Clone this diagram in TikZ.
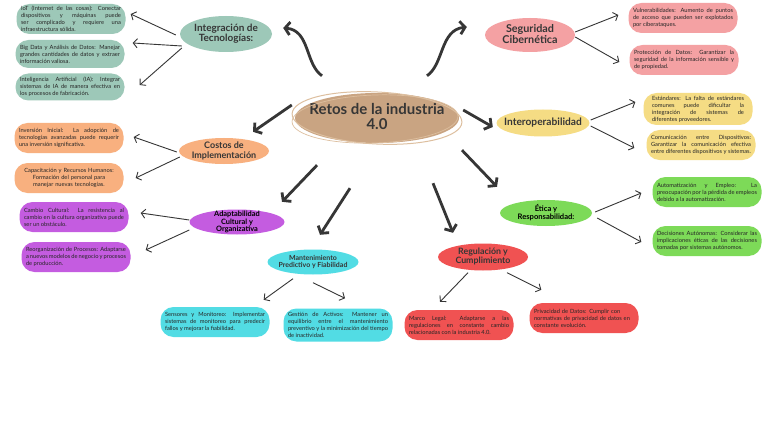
\documentclass[tikz,border=0pt]{standalone}
\usepackage{fontspec}
\setmainfont{Lato}
\usetikzlibrary{arrows.meta,shapes.geometric}

\definecolor{tan}{HTML}{C9A482}
\definecolor{tanline}{HTML}{DDBF9F}
\definecolor{sage}{HTML}{9DC8B8}
\definecolor{peach}{HTML}{F8B07F}
\definecolor{lila}{HTML}{C45CE0}
\definecolor{cyan}{HTML}{52DCE4}
\definecolor{rojo}{HTML}{F05252}
\definecolor{verde}{HTML}{7DDA58}
\definecolor{amarillo}{HTML}{F5DC84}
\definecolor{rosa}{HTML}{F4A1A3}
\definecolor{gris}{HTML}{363636}

% titulo centrado sin alto propio
\newcommand{\ttl}[1]{\makebox[0pt]{\smash{\raisebox{-.3em}{\begin{tabular}{@{}c@{}}#1\end{tabular}}}}}
\newcommand{\singuion}{\hyphenpenalty=10000\relax\exhyphenpenalty=10000\relax}

\tikzset{
  tema/.style={ellipse, fill=#1, inner sep=0pt, text=gris},
  caja/.style={fill=#1, rounded corners=13pt, text width=100pt, inner xsep=4.5pt,
    inner ysep=1pt, minimum height=30pt, align=justify, text=black!85,
    font=\fontsize{5.75}{7}\selectfont\singuion},
  flecha/.style={draw=gris, line width=0.9pt, -{Straight Barb[length=4pt,width=9pt]}},
  flechagruesa/.style={draw=gris, line width=2.8pt, -{Straight Barb[length=5pt,width=13pt]}}
}

\begin{document}
\begin{tikzpicture}[x=1pt,y=-1pt]

	\path[fill=white] (0,0) rectangle (768,433);
	\useasboundingbox (0,0) rectangle (768,433);

	% centro
	\node[tema=tan, minimum width=164pt, minimum height=50pt, font=\bfseries\fontsize{15}{15.5}\selectfont] (retos) at (377,118) {\ttl{Retos de la industria\\4.0}};
	\draw[tanline, line width=1pt] (retos.center) ellipse [x radius=85, y radius=26, rotate=-3];
	\draw[tanline, line width=0.7pt] ([shift={(-2,1)}]retos.center) ellipse [x radius=83, y radius=24, rotate=2];

	% temas
	\node[tema=sage, minimum width=92pt, minimum height=36pt, font=\bfseries\fontsize{10}{10}\selectfont] (integ) at (226,34) {\ttl{Integración de\\Tecnologías:}};
	\node[tema=rosa, minimum width=90pt, minimum height=34pt, font=\bfseries\fontsize{10.8}{11}\selectfont] (segur) at (530,35) {\ttl{Seguridad\\Cibernética}};
	\node[tema=peach, minimum width=90pt, minimum height=26pt, font=\bfseries\fontsize{9}{8.5}\selectfont] (costos) at (224,151) {\ttl{Costos de\\Implementación}};
	\node[tema=amarillo, minimum width=93pt, minimum height=27pt, font=\bfseries\fontsize{10.2}{10}\selectfont] (interop) at (543,123) {\ttl{Interoperabilidad}};
	\node[tema=lila, minimum width=95pt, minimum height=25pt, text=black, font=\bfseries\fontsize{7.4}{7}\selectfont] (adapt) at (237,222) {\ttl{Adaptabilidad\\Cultural y\\Organizativa}};
	\node[tema=verde, minimum width=92pt, minimum height=26pt, text=black, font=\bfseries\fontsize{7.6}{8}\selectfont] (etica) at (546,213) {\ttl{Ética y\\Responsabilidad:}};
	\node[tema=cyan, minimum width=91pt, minimum height=25pt, font=\bfseries\fontsize{7}{7.5}\selectfont] (manten) at (313,262) {\ttl{Mantenimiento\\Predictivo y Fiabilidad}};
	\node[tema=rojo, minimum width=90pt, minimum height=27pt, font=\bfseries\fontsize{8.8}{9}\selectfont] (regul) at (483,257) {\ttl{Regulación y\\Cumplimiento}};

	% cajas
	\node[caja=sage] (iot) at (71,19) {IoT (Internet de las cosas): Conectar dispositivos y máquinas puede ser complicado y requiere una infraestructura sólida.};
	\node[caja=sage, minimum height=28pt] (bigdata) at (70,54) {Big Data y Análisis de Datos: Manejar grandes cantidades de datos y extraer información valiosa.};
	\node[caja=sage, minimum height=27pt] (ia) at (70,87) {Inteligencia Artificial (IA): Integrar sistemas de IA de manera efectiva en los procesos de fabricación.};
	\node[caja=peach] (inversion) at (69,138) {Inversión Inicial: La adopción de tecnologías avanzadas puede requerir una inversión significativa.};
	\node[caja=peach, align=center] (capacit) at (69,178) {Capacitación y Recursos Humanos: Formación del personal para manejar nuevas tecnologías.};
	\node[caja=lila] (cambio) at (74,217) {Cambio Cultural: La resistencia al cambio en la cultura organizativa puede ser un obstáculo.};
	\node[caja=lila] (reorg) at (76,257) {Reorganización de Procesos: Adaptarse a nuevos modelos de negocio y procesos de producción.};
	\node[caja=cyan] (sensores) at (215,322) {Sensores y Monitoreo: Implementar sistemas de monitoreo para predecir fallos y mejorar la fiabilidad.};
	\node[caja=cyan, minimum height=33pt] (gestion) at (338,325) {Gestión de Activos: Mantener un equilibrio entre el mantenimiento preventivo y la minimización del tiempo de inactividad.};
	\node[caja=rojo] (marco) at (459,325) {Marco Legal: Adaptarse a las regulaciones en constante cambio relacionadas con la industria 4.0.};
	\node[caja=rojo, align=left] (privac) at (584,318) {Privacidad de Datos: Cumplir con normativas de privacidad de datos en constante evolución.};
	\node[caja=verde] (autom) at (707,192) {Automatización y Empleo: La preocupación por la pérdida de empleos debido a la automatización.};
	\node[caja=verde] (decis) at (707,241) {Decisiones Autónomas: Considerar las implicaciones éticas de las decisiones tomadas por sistemas autónomos.};
	\node[caja=amarillo, minimum height=32pt, text width=92pt, inner xsep=8.5pt] (estand) at (698,109) {Estándares: La falta de estándares comunes puede dificultar la integración de sistemas de diferentes proveedores.};
	\node[caja=amarillo] (comunic) at (701,145) {Comunicación entre Dispositivos: Garantizar la comunicación efectiva entre diferentes dispositivos y sistemas.};
	\node[caja=rosa] (vulner) at (683,18) {Vulnerabilidades: Aumento de puntos de acceso que pueden ser explotados por ciberataques.};
	\node[caja=rosa] (protec) at (684,60) {Protección de Datos: Garantizar la seguridad de la información sensible y de propiedad.};

	% flechas del centro
	\draw[flechagruesa] ([shift={(-55,-17)}]retos.north) .. controls (305,64) and (310,30) .. ([shift={(11,-6)}]integ.east);
	\draw[flechagruesa] ([shift={(50,-17)}]retos.north) .. controls (444,64) and (440,30) .. ([shift={(-18,-8)}]segur.west);
	\draw[flechagruesa] ([shift={(-3,-13)}]retos.west) -- ([shift={(29,-6)}]costos.north);
	\draw[flechagruesa] ([shift={(4,-8)}]retos.east) -- ([shift={(-3.5,4)}]interop.west);
	\draw[flechagruesa] ([shift={(85,7)}]retos.south) -- ([shift={(-49,-13)}]etica.north);
	\draw[flechagruesa] ([shift={(-60,22)}]retos.south) -- ([shift={(45,-7.5)}]adapt.north);
	\draw[flechagruesa] ([shift={(-27,45)}]retos.south) -- ([shift={(7,-14.5)}]manten.north);
	\draw[flechagruesa] ([shift={(56,40)}]retos.south) -- ([shift={(-30,-10.5)}]regul.north);

	% flechas a las cajas
	\draw[flecha] ([shift={(-4,1)}]integ.west) -- ([shift={(5,-5)}]iot.east);
	\draw[flecha] ([shift={(2,12)}]integ.west) -- ([shift={(8,-11)}]bigdata.east);
	\draw[flecha] ([shift={(2,14)}]integ.west) -- ([shift={(15,-2)}]ia.east);
	\draw[flecha] ([shift={(-2,1)}]costos.west) -- ([shift={(10,-1)}]inversion.east);
	\draw[flecha] ([shift={(1,6)}]costos.west) -- ([shift={(12,0)}]capacit.east);
	\draw[flecha] ([shift={(0,-2)}]adapt.west) -- ([shift={(12,-4)}]cambio.east);
	\draw[flecha] ([shift={(0,8)}]adapt.west) -- ([shift={(15,-7)}]reorg.east);
	\draw[flecha] ([shift={(-20,4)}]manten.south) -- ([shift={(-6,-7)}]sensores.north east);
	\draw[flecha] ([shift={(0,8)}]manten.south) -- ([shift={(7,-10)}]gestion.north);
	\draw[flecha] ([shift={(-15,2)}]regul.south) -- ([shift={(-19,-8)}]marco.north);
	\draw[flecha] ([shift={(24,2)}]regul.south) -- ([shift={(12,-13)}]privac.north west);
	\draw[flecha] ([shift={(3,-1)}]etica.east) -- ([shift={(-11,1)}]autom.west);
	\draw[flecha] ([shift={(5,5)}]etica.east) -- ([shift={(-11,1)}]decis.west);
	\draw[flecha] ([shift={(1,-3)}]interop.east) -- ([shift={(-8,-7)}]estand.west);
	\draw[flecha] ([shift={(1,3)}]interop.east) -- ([shift={(-12,3)}]comunic.west);
	\draw[flecha] ([shift={(0,-3)}]segur.east) -- ([shift={(-10,-3)}]vulner.west);
	\draw[flecha] ([shift={(0,2)}]segur.east) -- ([shift={(-10,2)}]protec.west);

\end{tikzpicture}
\end{document}
